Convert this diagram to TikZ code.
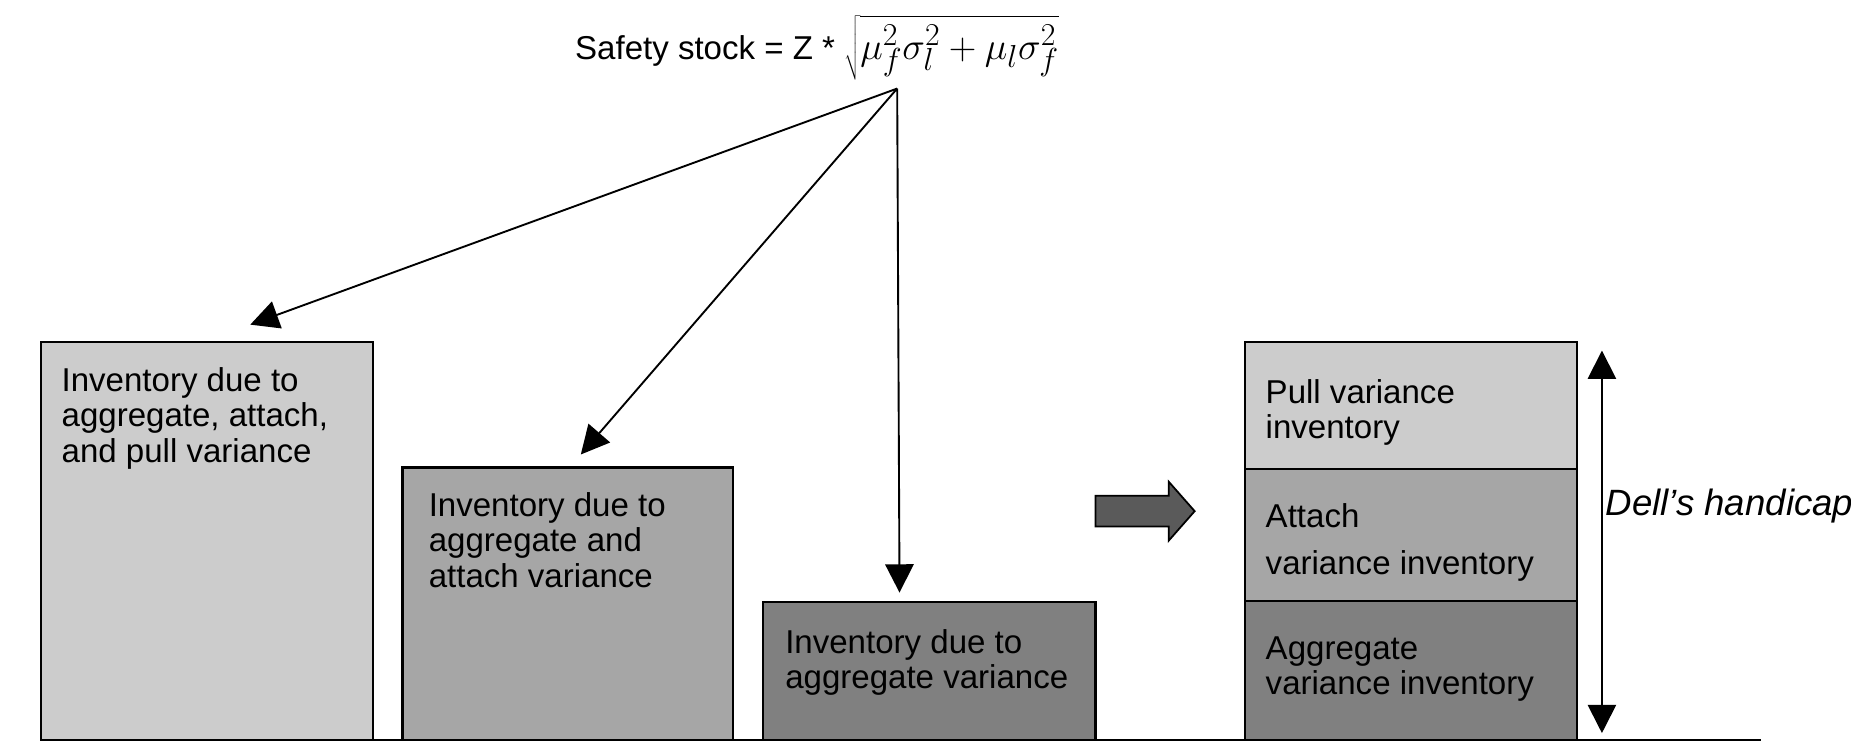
\documentclass[tikz,border=0pt]{standalone}
\usepackage{fontspec}
\setmainfont{Liberation Sans}
\usetikzlibrary{arrows.meta}
\definecolor{g1}{HTML}{CCCCCC}
\definecolor{g2}{HTML}{A6A6A6}
\definecolor{g3}{HTML}{808080}
\definecolor{g4}{HTML}{5A5A5A}
\begin{document}
\begin{tikzpicture}[x=1pt,y=-1pt,
  bar/.style={draw=black,line width=1.8pt},
  lbl/.style={anchor=north west,align=left,inner sep=0pt,font=\fontsize{28}{30}\selectfont},
  tip/.style={-{Triangle[length=24pt,width=24pt]},line width=1.6pt}]
\useasboundingbox (0,0) rectangle (1568,632);
\fill[white] (0,0) rectangle (1568,632);
\draw[bar,fill=g1] (35,290) rectangle (316,627);
\draw[bar,fill=g2] (341,396) rectangle (621,627);
\draw[bar,fill=g3] (646,510) rectangle (928,627);
\draw[bar,fill=g1] (1055,290) rectangle (1336,397);
\draw[bar,fill=g2] (1055,397) rectangle (1336,509);
\draw[bar,fill=g3] (1055,509) rectangle (1336,627);
\draw[line width=2.2pt] (35,627) -- (1492,627);
\node[lbl] (t1) at (52,311) {Inventory due to\\aggregate, attach,\\and pull variance};
\node[lbl] (t2) at (363,417) {Inventory due to\\aggregate and\\attach variance};
\node[lbl] (t3) at (665,533) {Inventory due to\\aggregate variance};
\node[lbl] (t4) at (1072,321) {Pull variance\\inventory};
\node[lbl,font=\fontsize{28}{40}\selectfont] (t5) at (1072,426) {Attach\\variance inventory};
\node[lbl] (t6) at (1072,539) {Aggregate\\variance inventory};
\node[lbl,font=\fontsize{31}{30}\itshape] (t7) at (1360,414) {Dell’s handicap};
\node[font=\fontsize{28}{30}\selectfont,anchor=base west,inner sep=0pt] (f) at (487,50) {Safety stock = Z * \scalebox{1.3}{$\displaystyle\sqrt{\mu_f^2\sigma_l^2+\mu_l\sigma_f^2}$}};
\coordinate (apex) at (760,75);
\coordinate (e1) at (212,275);
\coordinate (e2) at (492,385);
\coordinate (e3) at (762,502);
\draw[tip] (apex) -- (e1);
\draw[tip] (apex) -- (e2);
\draw[tip] (apex) -- (e3);
\draw[line width=1.5pt,fill=g4] (928,420) -- (990,420) -- (990,408) -- (1012,433) -- (990,458) -- (990,446) -- (928,446) -- cycle;
\coordinate (d1) at (1357,297);
\coordinate (d2) at (1357,621);
\draw[{Triangle[length=24pt,width=24pt]}-{Triangle[length=24pt,width=24pt]},line width=1.6pt] (d1) -- (d2);
\end{tikzpicture}
\end{document}
